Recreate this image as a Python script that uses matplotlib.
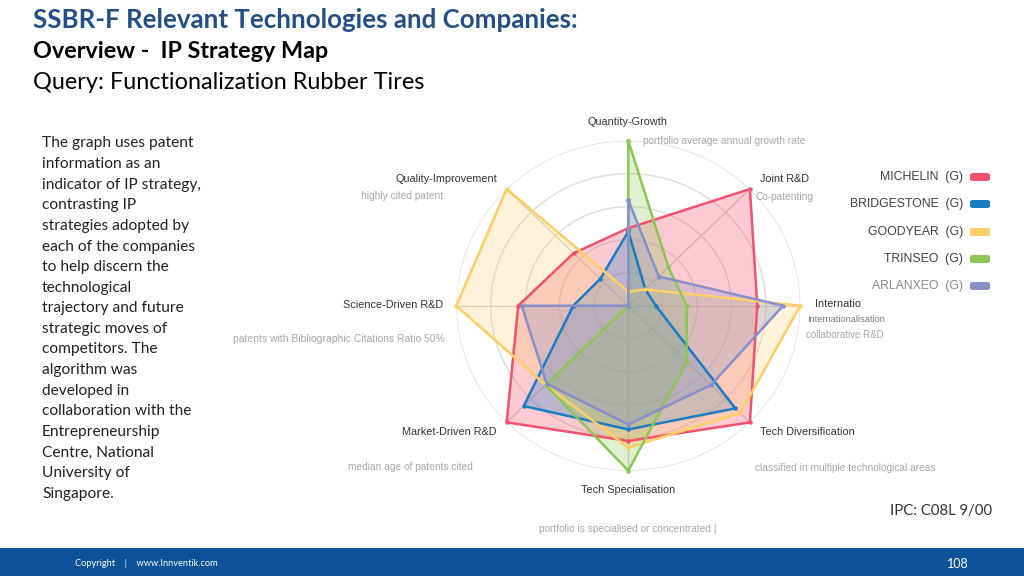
import numpy as np
import matplotlib
matplotlib.use("Agg")
import matplotlib.pyplot as plt
from matplotlib.patches import Rectangle, FancyBboxPatch

# ---------------- data ----------------
axis_labels = ["Quantity-Growth", "Joint R&D", "Internatio", "Tech Diversification",
               "Tech Specialisation", "Market-Driven R&D", "Science-Driven R&D",
               "Quality-Improvement"]
companies = ["MICHELIN  (G)", "BRIDGESTONE  (G)", "GOODYEAR  (G)", "TRINSEO  (G)", "ARLANXEO  (G)"]
michelin = [47, 100, 75, 100, 82, 100, 64, 45]
bridgestone = [45, 14, 16, 88, 75, 86, 32, 23]
goodyear = [8.5, 14, 100, 92, 86, 68, 100, 100]
trinseo = [100, 33, 34, 48, 100, 68, 0, 0]
arlanxeo = [64, 25, 90, 68, 72, 67, 62, 0]
series = [michelin, bridgestone, goodyear, trinseo, arlanxeo]
colors = ["#F2526E", "#1C7CC6", "#FFCF66", "#8CC654", "#8890CC"]
fill_alpha = [0.30, 0.28, 0.25, 0.28, 0.28]
ring_values = [20, 40, 60, 80, 100]

body_lines = ["The graph uses patent", "information as an", "indicator of IP strategy,",
              "contrasting IP", "strategies adopted by", "each of the companies",
              "to help discern the", "technological", "trajectory and future",
              "strategic moves of", "competitors. The", "algorithm was", "developed in",
              "collaboration with the", "Entrepreneurship", "Centre, National",
              "University of", "Singapore."]

W, H = 1024, 576
fig = plt.figure(figsize=(W / 100, H / 100), dpi=100)
fig.patch.set_facecolor("white")


def P(x, y):
    return x / W, 1 - y / H


# ---------------- radar ----------------
cx, cy, rx, ry = 628.3, 305.7, 172, 165
ax = fig.add_axes([(cx - rx) / W, 1 - (cy + ry) / H, 2 * rx / W, 2 * ry / H], projection="polar")
ax.set_aspect("auto")
ax.set_theta_zero_location("N")
ax.set_theta_direction(-1)
theta = np.deg2rad(np.arange(len(axis_labels)) * 45.0)
ax.set_xticks(theta)
ax.set_xticklabels([])
ax.set_yticks(ring_values)
ax.set_yticklabels([])
ax.set_ylim(0, 100)
ax.spines["polar"].set_visible(False)
ax.xaxis.grid(True, color="#CFCFCF", lw=0.9)
ax.yaxis.grid(True, color="#DDDDDD", lw=1.0)
ax.set_axisbelow(True)
ax.patch.set_alpha(0)

th_closed = np.concatenate([theta, theta[:1]])
for vals, col, fa in zip(series, colors, fill_alpha):
    v = np.array(vals + vals[:1], dtype=float)
    ax.fill(th_closed, v, color=col, alpha=fa, lw=0)
    ax.plot(th_closed, v, color=col, lw=1.8, marker="o", ms=2.2, clip_on=False)

# axis labels
lab_font = "Liberation Sans"
lab_c = "#333333"
sub_c = "#A8A8A8"
ls, ss = 7.85, 7.3
fig.text(*P(628, 122), "Quantity-Growth", ha="center", va="center", fontsize=ls, color=lab_c, family=lab_font)
fig.text(*P(643, 141), "portfolio average annual growth rate", ha="left", va="center", fontsize=ss, color=sub_c, family=lab_font)
fig.text(*P(760, 179), "Joint R&D", ha="left", va="center", fontsize=ls, color=lab_c, family=lab_font)
fig.text(*P(756, 197), "Co-patenting", ha="left", va="center", fontsize=ss, color=sub_c, family=lab_font)
fig.text(*P(815, 304), "Internatio", ha="left", va="center", fontsize=ls, color=lab_c, family=lab_font)
fig.text(*P(807, 319.5), "Internationalisation", ha="left", va="center", fontsize=6.6, color="#777777", family=lab_font)
fig.text(*P(806, 335), "collaborative R&D", ha="left", va="center", fontsize=7.0, color=sub_c, family=lab_font)
fig.text(*P(760, 432), "Tech Diversification", ha="left", va="center", fontsize=ls, color=lab_c, family=lab_font)
fig.text(*P(755, 468), "classified in multiple technological areas", ha="left", va="center", fontsize=ss, color=sub_c, family=lab_font)
fig.text(*P(628, 490), "Tech Specialisation", ha="center", va="center", fontsize=ls, color=lab_c, family=lab_font)
fig.text(*P(628, 529), "portfolio is specialised or concentrated |", ha="center", va="center", fontsize=ss, color=sub_c, family=lab_font)
fig.text(*P(497, 432), "Market-Driven R&D", ha="right", va="center", fontsize=ls, color=lab_c, family=lab_font)
fig.text(*P(473, 467), "median age of patents cited", ha="right", va="center", fontsize=ss, color=sub_c, family=lab_font)
fig.text(*P(443, 305), "Science-Driven R&D", ha="right", va="center", fontsize=ls, color=lab_c, family=lab_font)
fig.text(*P(445, 339), "patents with Bibliographic Citations Ratio 50%", ha="right", va="center", fontsize=7.5, color=sub_c, family=lab_font)
fig.text(*P(497, 179), "Quality-Improvement", ha="right", va="center", fontsize=ls, color=lab_c, family=lab_font)
fig.text(*P(443, 196.5), "highly cited patent", ha="right", va="center", fontsize=ss, color=sub_c, family=lab_font)

# legend
leg_y = [177, 204, 232, 259, 286]
for name, col, y in zip(companies, colors, leg_y):
    tc = "#888888" if name.startswith("ARLANXEO") else "#404040"
    fig.text(*P(963, y), name, ha="right", va="center", fontsize=8.8, color=tc, family=lab_font)
    x0, y0 = P(970, y + 4)
    fig.patches.append(FancyBboxPatch((x0, y0), 20 / W, 8 / H, boxstyle="round,pad=0,rounding_size=0.003",
                                      transform=fig.transFigure, facecolor=col, edgecolor="none"))

# ---------------- slide text ----------------
slide_font = "Lato"
fig.text(*P(33, 28.5), "SSBR-F Relevant Technologies and Companies:", ha="left", va="baseline",
         fontsize=18.6, fontweight="bold", color="#234E86", family=slide_font)
fig.text(*P(33, 58.5), "Overview -  IP Strategy Map", ha="left", va="baseline",
         fontsize=16.8, fontweight="bold", color="black", family=slide_font)
fig.text(*P(33, 89), "Query: Functionalization Rubber Tires", ha="left", va="baseline",
         fontsize=16.9, color="black", family=slide_font)

for i, line in enumerate(body_lines):
    fig.text(*P(42, 143.5 + i * 20.6), line, ha="left", va="center", fontsize=11.2, color="#222222", family=slide_font)

fig.text(*P(890, 511), "IPC: C08L 9/00", ha="left", va="center", fontsize=10.7, color="#333333", family=slide_font)

# footer
fig.patches.append(Rectangle((0, 0), 1, 28 / H, transform=fig.transFigure, facecolor="#0B5298", edgecolor="none"))
fig.text(*P(75, 564), "Copyright    |    www.Innventik.com", ha="left", va="center", fontsize=6.7, color="white", family=slide_font)
fig.text(*P(947, 564), "108", ha="left", va="center", fontsize=9, color="white", family=slide_font)

fig.savefig("out.png", dpi=100)
